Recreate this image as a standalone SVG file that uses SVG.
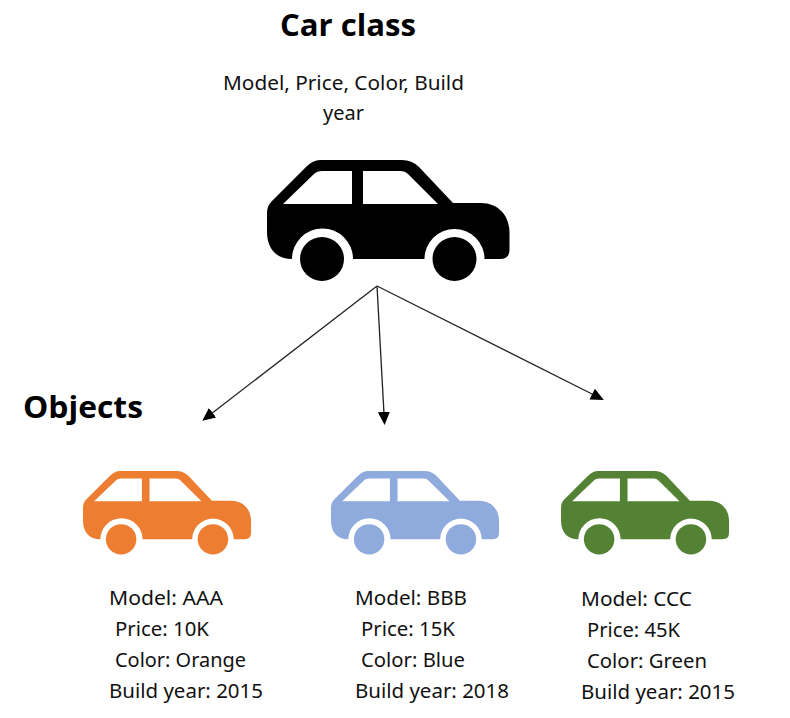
<svg xmlns="http://www.w3.org/2000/svg" width="790" height="718" viewBox="0 0 790 718">
<style>
.t{font-family:"Noto Sans","Open Sans",sans-serif;font-size:20px;fill:#111}
.h{font-family:"Open Sans","Noto Sans",sans-serif;font-size:30px;font-weight:700;fill:#000}
.c{stroke:#222;stroke-width:1.3;fill:none;marker-end:url(#a)}
</style>
<defs>
<marker id="a" markerUnits="userSpaceOnUse" markerWidth="14" markerHeight="14" refX="2" refY="6" orient="auto" viewBox="0 0 14 12"><path d="M0 0L13 6L0 12Z" fill="#000"/></marker>
<g id="car">
<path fill-rule="evenodd" d="M320 160H402Q412 160 419 167L453 203H481C498 203 509.500 215 509.500 233V250Q509.500 259 500 259H484.500A30 30 0 0 0 424.500 259H353A30.500 30.500 0 0 0 292 259C276 259 267 248 267 232V213Q267 206 272 201L306 167Q313 160 320 160ZM283 204H352V171H322Q317 171 314 174ZM363 204H438L408 174Q405 171 401 171H363Z"/>
<circle cx="322" cy="259" r="22"/><circle cx="454.500" cy="259" r="22"/>
</g>
</defs>
<rect width="790" height="718" fill="#fff"/>
<g id="title"><text class="h" x="348" y="36" text-anchor="middle" textLength="136" lengthAdjust="spacingAndGlyphs">Car class</text></g>
<g id="class-attributes"><text class="t" x="223" y="90" textLength="241" lengthAdjust="spacingAndGlyphs">Model, Price, Color, Build</text><text class="t" x="323" y="120" textLength="41" lengthAdjust="spacingAndGlyphs">year</text></g>
<g id="car-class"><use href="#car" fill="#000"/></g>
<g id="connectors">
<line class="c" x1="377" y1="286" x2="211" y2="414"/>
<line class="c" x1="377" y1="286" x2="384" y2="414"/>
<line class="c" x1="377" y1="286" x2="594" y2="395"/>
</g>
<g id="objects-label"><text class="h" x="23" y="418" textLength="120" lengthAdjust="spacingAndGlyphs">Objects</text></g>
<g id="object-orange">
<use href="#car" fill="#ed7d31" transform="translate(83 471) scale(.693 .69) translate(-267 -160)"/>
<text class="t" x="109" y="605" textLength="114" lengthAdjust="spacingAndGlyphs">Model: AAA</text><text class="t" x="115" y="636" textLength="94" lengthAdjust="spacingAndGlyphs">Price: 10K</text><text class="t" x="115" y="667" textLength="131" lengthAdjust="spacingAndGlyphs">Color: Orange</text><text class="t" x="109" y="698" textLength="154" lengthAdjust="spacingAndGlyphs">Build year: 2015</text>
</g>
<g id="object-blue">
<use href="#car" fill="#8faadc" transform="translate(331 471) scale(.693 .69) translate(-267 -160)"/>
<text class="t" x="355" y="605" textLength="112" lengthAdjust="spacingAndGlyphs">Model: BBB</text><text class="t" x="361" y="636" textLength="94" lengthAdjust="spacingAndGlyphs">Price: 15K</text><text class="t" x="361" y="667" textLength="104" lengthAdjust="spacingAndGlyphs">Color: Blue</text><text class="t" x="355" y="698" textLength="154" lengthAdjust="spacingAndGlyphs">Build year: 2018</text>
</g>
<g id="object-green">
<use href="#car" fill="#548235" transform="translate(561 471) scale(.693 .69) translate(-267 -160)"/>
<text class="t" x="581" y="606" textLength="111" lengthAdjust="spacingAndGlyphs">Model: CCC</text><text class="t" x="587" y="637" textLength="93" lengthAdjust="spacingAndGlyphs">Price: 45K</text><text class="t" x="587" y="668" textLength="120" lengthAdjust="spacingAndGlyphs">Color: Green</text><text class="t" x="581" y="699" textLength="154" lengthAdjust="spacingAndGlyphs">Build year: 2015</text>
</g>
</svg>
